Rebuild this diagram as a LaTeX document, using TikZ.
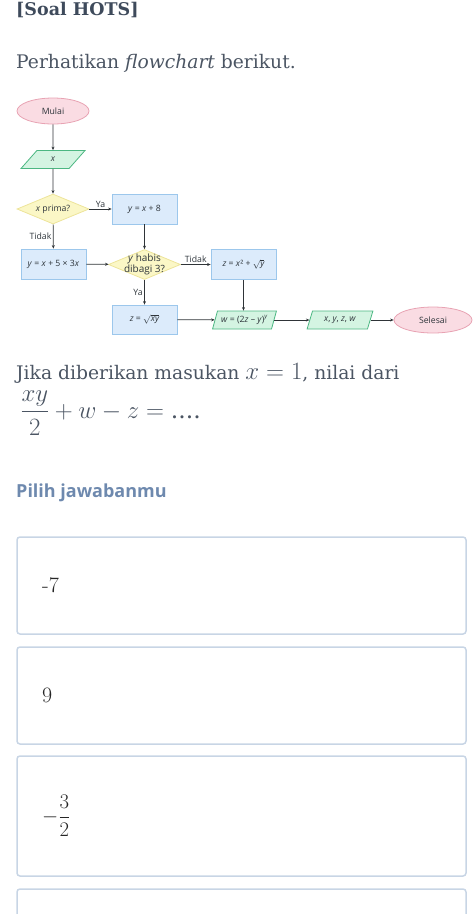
\documentclass[tikz,border=0pt]{standalone}
\usepackage{fontspec}
\usepackage{amsmath}
\setmainfont{DejaVu Serif}
\newfontfamily\fsans{Open Sans}
\newfontfamily\lmfont{Latin Modern Roman}
\usetikzlibrary{shapes.geometric,arrows.meta}
\definecolor{titlec}{HTML}{3E4A5B}
\definecolor{txtc}{HTML}{4B5563}
\definecolor{pinkf}{HTML}{FADCE3}
\definecolor{pinkd}{HTML}{E8A3B3}
\definecolor{greenf}{HTML}{D4F4E2}
\definecolor{greend}{HTML}{4CB782}
\definecolor{yelf}{HTML}{FBF7C6}
\definecolor{yeld}{HTML}{EDE49A}
\definecolor{bluef}{HTML}{DCEBFB}
\definecolor{blued}{HTML}{9CC7EC}
\definecolor{arrc}{HTML}{2F3438}
\definecolor{pilihc}{HTML}{6E89AE}
\definecolor{boxc}{HTML}{C8D5E5}
\definecolor{fct}{HTML}{2E353B}
\newcommand{\iv}[1]{\textit{#1}}
\tikzset{
  fcfont/.style={font=\fsans\fontsize{8.7}{9}\selectfont, text=fct},
  term/.style={ellipse, draw=pinkd, fill=pinkf, line width=0.8pt, inner sep=0pt, fcfont},
  io/.style={trapezium, trapezium left angle=65, trapezium right angle=115, trapezium stretches=true,
    draw=greend, fill=greenf, line width=0.8pt, inner sep=0pt, minimum width=64pt, minimum height=18pt, fcfont},
  decision/.style={diamond, draw=yeld, fill=yelf, line width=0.8pt, inner sep=0pt,
    minimum width=72pt, minimum height=30pt},
  proc/.style={rectangle, draw=blued, fill=bluef, line width=0.8pt, inner sep=0pt,
    minimum width=65pt, minimum height=30pt, fcfont},
  flow/.style={draw=arrc, line width=0.7pt, -{Stealth[length=3.5pt,width=3pt]}},
  lbl/.style={fcfont, inner sep=1.5pt},
  body/.style={font=\fontsize{18.7}{22}\selectfont, text=txtc, inner sep=0pt, anchor=base west},
  optbox/.style={draw=boxc, line width=1.5pt, rounded corners=3pt},
  anstext/.style={font=\lmfont\fontsize{22}{24}\selectfont, text=black!85, inner sep=0pt, anchor=west}
}
\begin{document}
\begin{tikzpicture}[x=1pt,y=-1pt]
\useasboundingbox (0,0) rectangle (474,914);
% header text
\node[body, text=titlec, font=\bfseries\fontsize{17.5}{22}\selectfont] (title) at (16,15.5) {[Soal HOTS]};
\node[body] (intro) at (16,68.5) {Perhatikan \textit{flowchart} berikut.};
% flowchart
\node[term, minimum width=72pt, minimum height=26pt] (mulai) at (53,111) {Mulai};
\node[io] (inx) at (53,159.5) {\iv{x}};
\node[decision, label={[fcfont]center:{\iv{x} prima?}}] (prima) at (53,209) {};
\node[proc] (b8) at (144.5,209) {\iv{y} = \iv{x} + 8};
\node[proc] (b53) at (53.5,264) {\iv{y} = \iv{x} + 5 × 3\iv{x}};
\node[decision, label={[fcfont, align=center, font=\fsans\fontsize{10}{8}\selectfont]center:{\iv{y} habis\\dibagi 3?}}] (habis) at (144.5,264.5) {};
\node[proc] (zsq) at (243.5,264.5) {\iv{z} = \iv{x}² + $\sqrt{\text{\fsans\itshape y}}$};
\node[proc, minimum height=29pt] (zrt) at (144.5,319.5) {\iv{z} = $\sqrt{\text{\fsans\itshape xy}}$};
\node[io] (win) at (244.5,320) {\iv{w} = (2\iv{z} – \iv{y})\textsuperscript{\iv{y}}};
\node[io, minimum width=66pt] (outp) at (340,320) {\iv{x}, \iv{y}, \iv{z}, \iv{w}};
\node[term, minimum width=78pt, minimum height=26pt] (sel) at (433,320) {Selesai};
% connectors
\draw[flow] (mulai) -- (inx);
\draw[flow] (inx) -- (prima);
\draw[flow] (prima) -- node[lbl, above] {Ya} (b8);
\draw[flow] (prima) -- node[lbl, left] {Tidak} (b53);
\draw[flow] (b8) -- (habis);
\draw[flow] (b53) -- (habis);
\draw[flow] (habis) -- node[lbl, above] {Tidak} (zsq);
\draw[flow] (habis) -- node[lbl, left] {Ya} (zrt);
\draw[flow] (zrt) -- (win);
\draw[flow] (zsq.south) -- (zsq.south |- win.north);
\draw[flow] (win) -- (outp);
\draw[flow] (outp) -- (sel);
% question text
\node[body] (q1) at (16,379) {Jika diberikan masukan {\fontsize{23}{24}\selectfont$x = 1$}, nilai dari};
\node[body] (q2) at (16,418) {\fontsize{23.5}{24}\selectfont$\,\dfrac{xy}{2} + w - z = \text{....}$};
\node[body, text=pilihc, font=\fsans\bfseries\fontsize{18}{22}\selectfont] (pilih) at (16,497) {Pilih jawabanmu};
% options
\draw[optbox] (17,537) rectangle (466,634);
\draw[optbox] (17,647) rectangle (466,744);
\draw[optbox] (17,756) rectangle (466,876);
\draw[optbox] (17,920) -- (17,889) -- (466,889) -- (466,920);
\node[anstext] (a1) at (42,585) {-7};
\node[anstext] (a2) at (42,695) {9};
\node[anstext] (a3) at (42,816) {\fontsize{22}{24}\selectfont$-\dfrac{3}{2}$};
\end{tikzpicture}
\end{document}
